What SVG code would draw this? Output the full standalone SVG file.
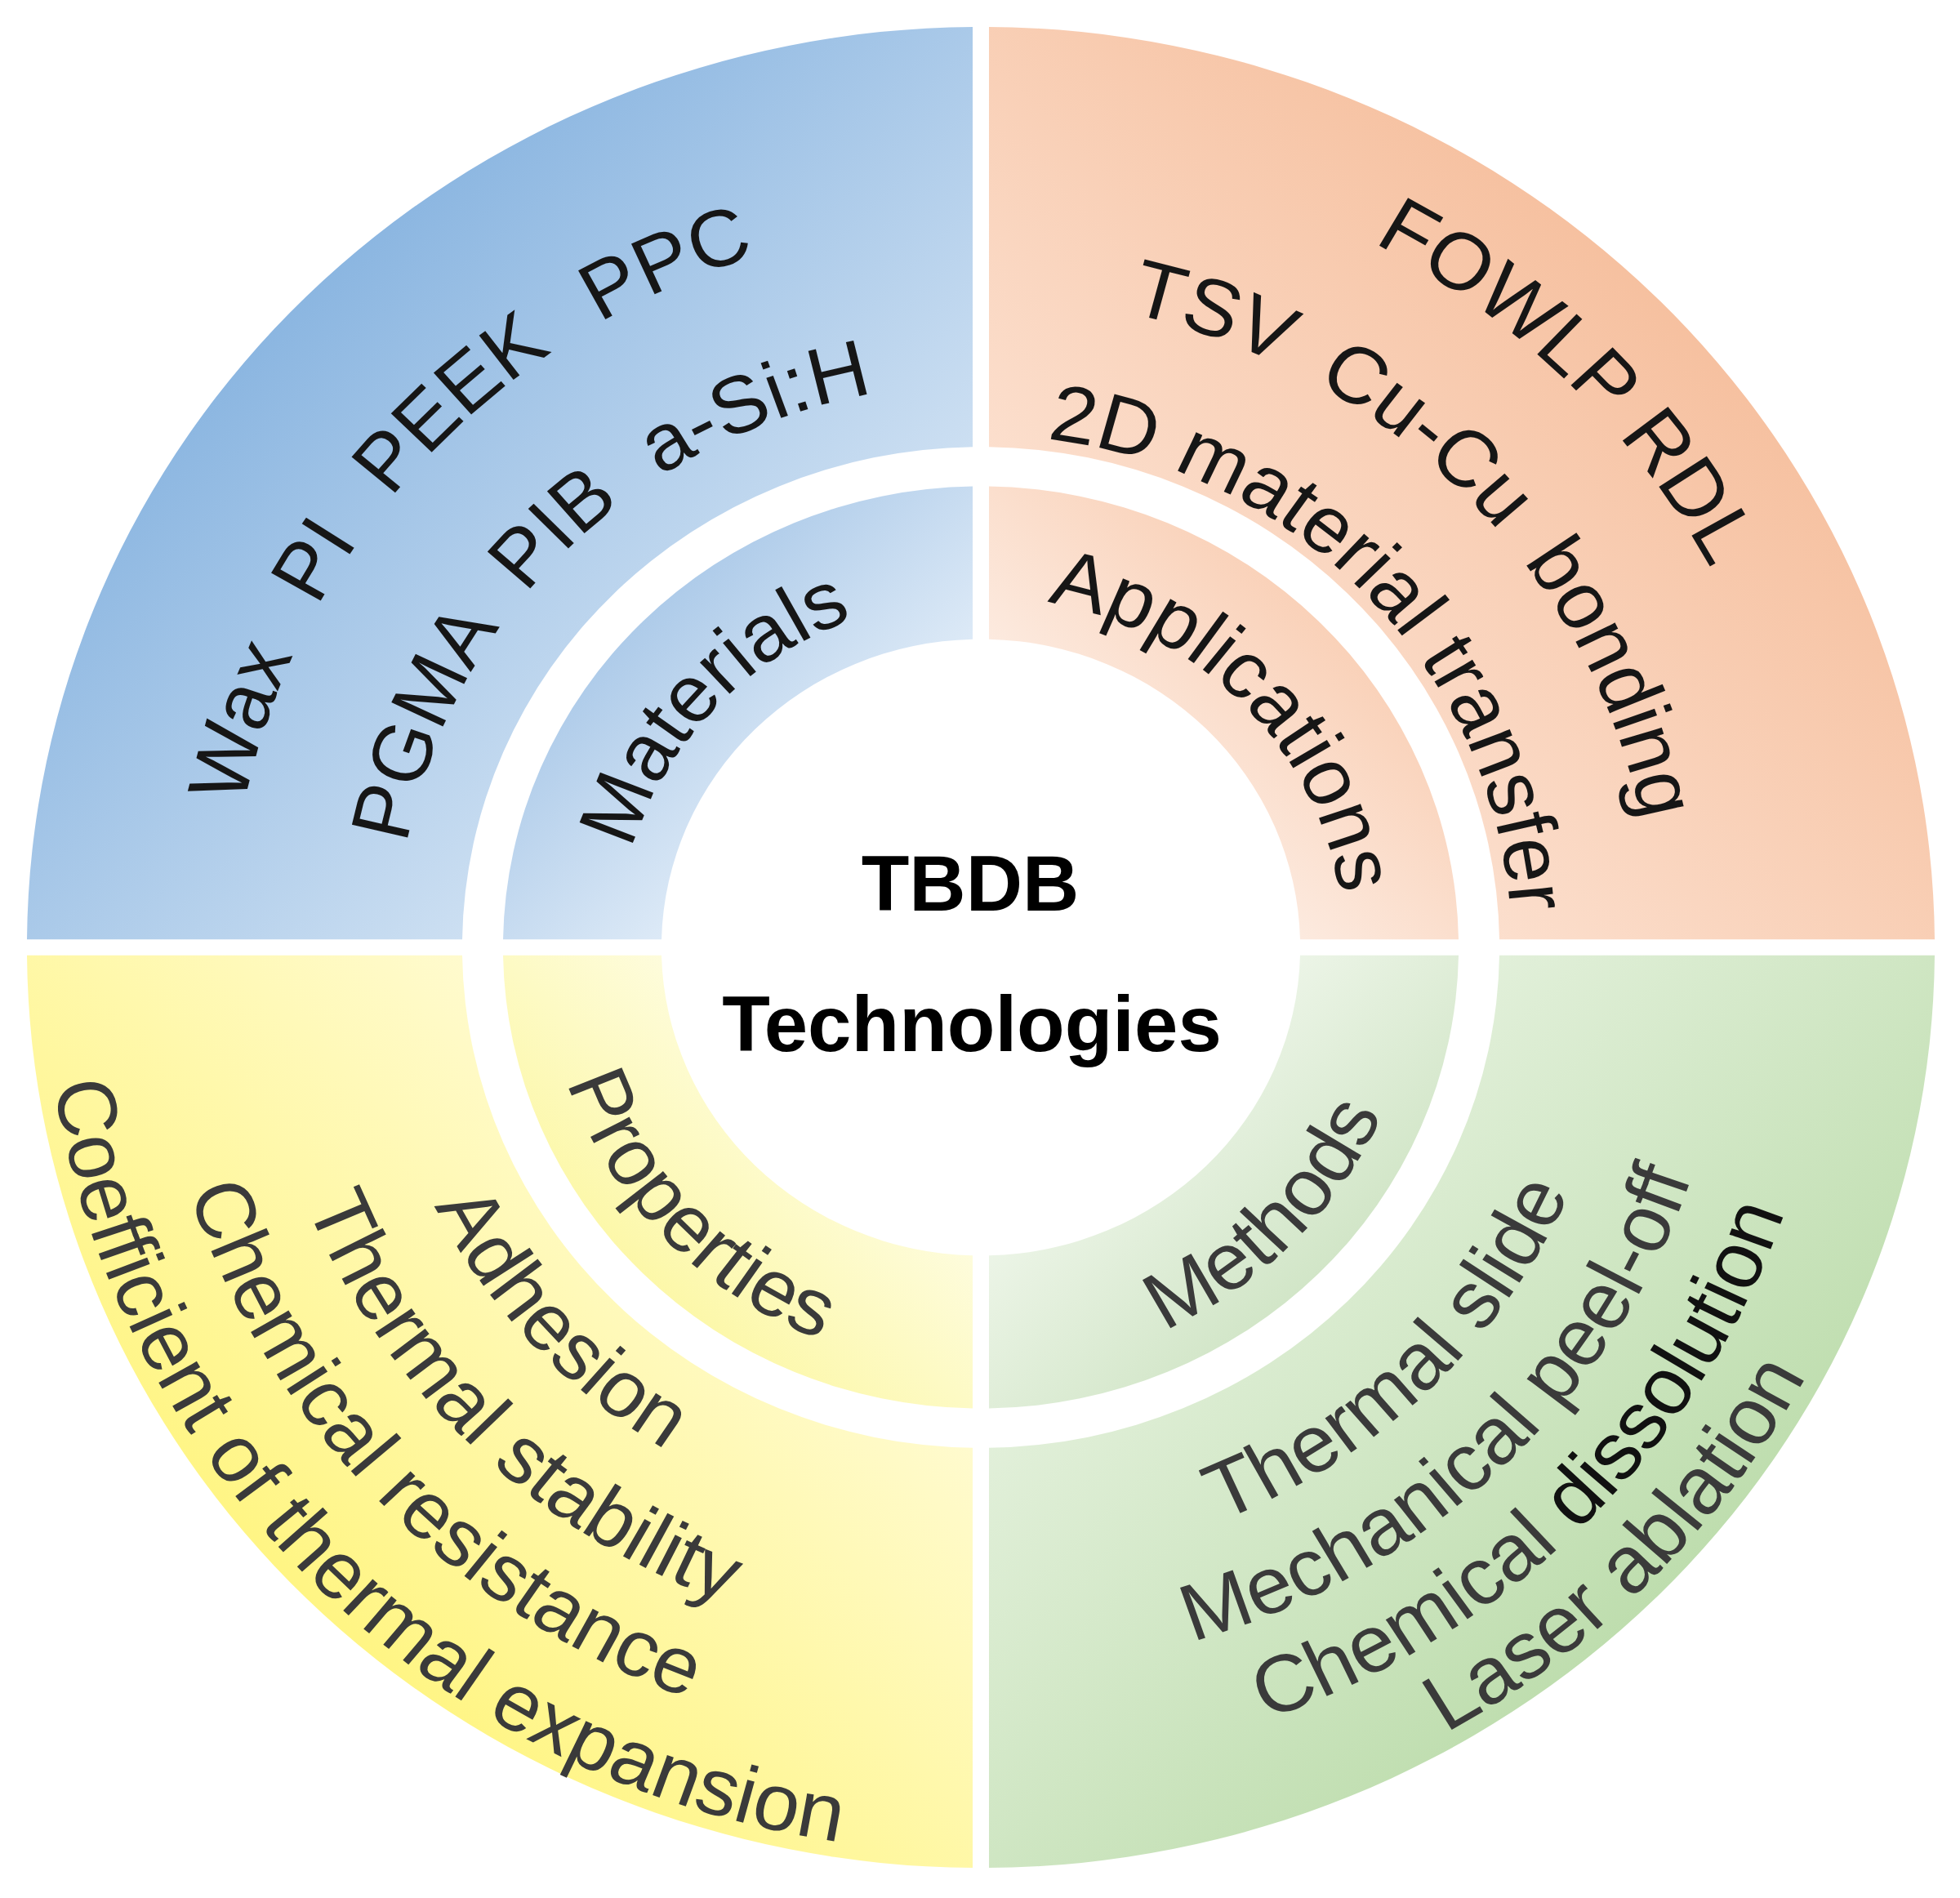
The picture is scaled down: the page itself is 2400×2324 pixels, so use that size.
<svg xmlns="http://www.w3.org/2000/svg" xmlns:xlink="http://www.w3.org/1999/xlink" width="2400" height="2324" viewBox="0 0 2400 2324">
<style>
.t{font-family:"Liberation Sans",Arial,sans-serif;font-size:102px;text-anchor:middle}
.dk{fill:#161616}
.gr{fill:#3a3a3a}
.c{font-family:"Liberation Sans",Arial,sans-serif;font-weight:bold;font-size:96px;text-anchor:middle;fill:#000}
</style>
<defs>
<linearGradient id="gTL" gradientUnits="userSpaceOnUse" x1="-1000" y1="-1000" x2="-200" y2="-200"><stop offset="0" stop-color="#75a8db"/><stop offset="1" stop-color="#dce9f6"/></linearGradient>
<linearGradient id="gTR" gradientUnits="userSpaceOnUse" x1="1000" y1="-1000" x2="200" y2="-200"><stop offset="0" stop-color="#f4b690"/><stop offset="1" stop-color="#fde6d8"/></linearGradient>
<linearGradient id="gBL" gradientUnits="userSpaceOnUse" x1="-1000" y1="1000" x2="-200" y2="200"><stop offset="0" stop-color="#fff36a"/><stop offset="1" stop-color="#fffce0"/></linearGradient>
<linearGradient id="gBR" gradientUnits="userSpaceOnUse" x1="1000" y1="1000" x2="200" y2="200"><stop offset="0" stop-color="#b2d79f"/><stop offset="1" stop-color="#eaf4e4"/></linearGradient>
<linearGradient id="iTL" gradientUnits="userSpaceOnUse" x1="-450" y1="-450" x2="-150" y2="-150"><stop offset="0" stop-color="#a6c6e7"/><stop offset="1" stop-color="#e8f1fa"/></linearGradient>
<linearGradient id="iTR" gradientUnits="userSpaceOnUse" x1="450" y1="-450" x2="150" y2="-150"><stop offset="0" stop-color="#f9cdb2"/><stop offset="1" stop-color="#fdf0e8"/></linearGradient>
<linearGradient id="iBL" gradientUnits="userSpaceOnUse" x1="-450" y1="450" x2="-150" y2="150"><stop offset="0" stop-color="#fcf7a0"/><stop offset="1" stop-color="#fefde8"/></linearGradient>
<linearGradient id="iBR" gradientUnits="userSpaceOnUse" x1="450" y1="450" x2="150" y2="150"><stop offset="0" stop-color="#cde3c2"/><stop offset="1" stop-color="#f2f8ee"/></linearGradient>
<path id="a920" d="M -920,0 A 920 920 0 0 1 920,0"/>
<path id="a715" d="M -715,0 A 715 715 0 0 1 715,0"/>
<path id="a1015" d="M -1015,0 A 1015 1015 0 0 1 1015,0"/>
<path id="a825" d="M -825,0 A 825 825 0 0 1 825,0"/>
<path id="a650" d="M -650,0 A 650 650 0 0 1 650,0"/>
<path id="a445" d="M -445,0 A 445 445 0 0 1 445,0"/>
<path id="b535" d="M -535,0 A 535 535 0 0 0 535,0"/>
<path id="b745" d="M -745,0 A 745 745 0 0 0 745,0"/>
<path id="b888" d="M -888,0 A 888 888 0 0 0 888,0"/>
<path id="b1018" d="M -1018,0 A 1018 1018 0 0 0 1018,0"/>
<path id="b1148" d="M -1148,0 A 1148 1148 0 0 0 1148,0"/>
<path id="b785" d="M -785,0 A 785 785 0 0 0 785,0"/>
<path id="b918" d="M -918,0 A 918 918 0 0 0 918,0"/>
<path id="b1040" d="M -1040,0 A 1040 1040 0 0 0 1040,0"/>
</defs>
<rect width="2400" height="2324" fill="#fff"/>
<g transform="translate(1201,1160) scale(1,0.965)">
<g id="materials">
<path fill="url(#gTL)" d="M -10,-1168 A 1168 1168 0 0 0 -1168,-10 L -635,-10 A 635 635 0 0 1 -10,-635 Z"/>
<path fill="url(#iTL)" d="M -10,-585 A 585 585 0 0 0 -585,-10 L -391,-10 A 391 391 0 0 1 -10,-391 Z"/>
<text class="t dk" word-spacing="40"><textPath xlink:href="#a920" startOffset="23.3%">Wax PI PEEK PPC</textPath></text>
<text class="t dk" word-spacing="30"><textPath xlink:href="#a715" startOffset="25%">PGMA PIB a-Si:H</textPath></text>
<text class="t dk"><textPath xlink:href="#a445" startOffset="23.8%">Materials</textPath></text>
</g>
<g id="applications">
<path fill="url(#gTR)" d="M 10,-1168 A 1168 1168 0 0 1 1168,-10 L 635,-10 A 635 635 0 0 0 10,-635 Z"/>
<path fill="url(#iTR)" d="M 10,-585 A 585 585 0 0 1 585,-10 L 391,-10 A 391 391 0 0 0 10,-391 Z"/>
<text class="t dk"><textPath xlink:href="#a1015" startOffset="75%">FOWLP RDL</textPath></text>
<text class="t dk" word-spacing="20"><textPath xlink:href="#a825" startOffset="75.4%">TSV Cu-Cu bonding</textPath></text>
<text class="t dk"><textPath xlink:href="#a650" startOffset="75.9%">2D material transfer</textPath></text>
<text class="t dk"><textPath xlink:href="#a445" startOffset="75.5%">Applications</textPath></text>
</g>
<g id="properties">
<path fill="url(#gBL)" d="M -10,1168 A 1168 1168 0 0 1 -1168,10 L -635,10 A 635 635 0 0 0 -10,635 Z"/>
<path fill="url(#iBL)" d="M -10,585 A 585 585 0 0 1 -585,10 L -391,10 A 391 391 0 0 0 -10,391 Z"/>
<text class="t gr"><textPath xlink:href="#b535" startOffset="24.2%">Properties</textPath></text>
<text class="t gr"><textPath xlink:href="#b745" startOffset="23.6%">Adhesion</textPath></text>
<text class="t gr"><textPath xlink:href="#b888" startOffset="25.3%">Thermal stability</textPath></text>
<text class="t gr"><textPath xlink:href="#b1018" startOffset="24.2%">Chemical resistance</textPath></text>
<text class="t gr"><textPath xlink:href="#b1148" startOffset="25%">Coefficient of thermal expansion</textPath></text>
</g>
<g id="methods">
<path fill="url(#gBR)" d="M 10,1168 A 1168 1168 0 0 0 1168,10 L 635,10 A 635 635 0 0 1 10,635 Z"/>
<path fill="url(#iBR)" d="M 10,585 A 585 585 0 0 0 585,10 L 391,10 A 391 391 0 0 1 10,391 Z"/>
<text class="t gr"><textPath xlink:href="#b535" startOffset="75.4%">Methods</textPath></text>
<text class="t gr"><textPath xlink:href="#b785" startOffset="74.6%">Thermal slide</textPath></text>
<text class="t gr"><textPath xlink:href="#b918" startOffset="74.4%">Mechanical peel-off</textPath></text>
<text class="t gr"><textPath xlink:href="#b1040" startOffset="75.2%">Chemical <tspan fill="#111">dissolution</tspan></textPath></text>
<text class="t gr"><textPath xlink:href="#b1148" startOffset="75.4%">Laser ablation</textPath></text>
</g>
</g>
<g id="center">
<text class="c" x="1188" y="1115">TBDB</text>
<text class="c" x="1190" y="1287">Technologies</text>
</g>
<g id="connectors"/>
</svg>
